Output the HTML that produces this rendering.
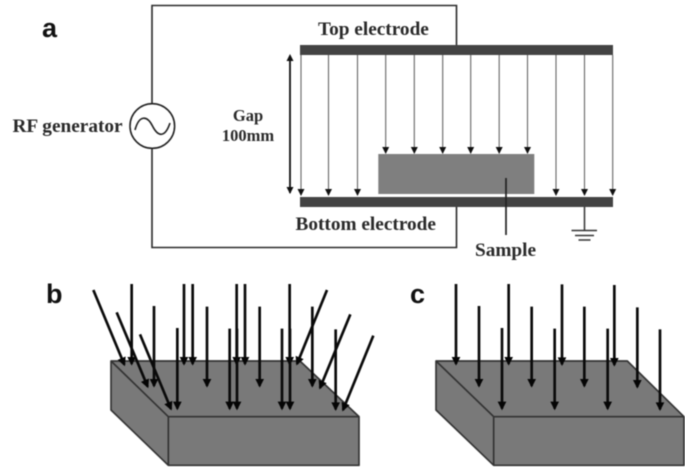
<!DOCTYPE html>
<html>
<head>
<meta charset="utf-8">
<style>
html,body{margin:0;padding:0;background:#fff;width:685px;height:467px;overflow:hidden}
svg{display:block;filter:blur(0.5px)}
.s{font-family:"Liberation Serif",serif;font-weight:bold;font-size:19.3px;fill:#2a2a2a}
.g{font-family:"Liberation Serif",serif;font-weight:bold;font-size:16.5px;fill:#2a2a2a}
.l{font-family:"Liberation Sans",sans-serif;font-weight:bold;font-size:27px;fill:#111}
</style>
</head>
<body>
<svg width="685" height="467" viewBox="0 0 685 467" xmlns="http://www.w3.org/2000/svg">
<defs>
<marker id="h" markerUnits="userSpaceOnUse" markerWidth="8" markerHeight="8" viewBox="0 0 8 8" refX="6" refY="4" orient="auto"><path d="M0 .5L7 4L0 7.5Z" fill="#111"/></marker>
<marker id="hs" markerUnits="userSpaceOnUse" markerWidth="8" markerHeight="8" viewBox="0 0 8 8" refX="2" refY="4" orient="auto"><path d="M7 .5L0 4L7 7.5Z" fill="#111"/></marker>
<marker id="b" markerUnits="userSpaceOnUse" markerWidth="30" markerHeight="30" viewBox="0 0 30 30" refX="22" refY="15" orient="auto"><path d="M1 2L27 15L1 28Z" fill="#050505"/></marker>
</defs>

<!-- Panel a -->
<text class="l" x="42" y="37">a</text>
<path d="M152 103.500V5.500H456.500V45M152 148.500V247.500H456.500V207" fill="none" stroke="#2a2a2a" stroke-width="1.600"/>
<circle cx="152.300" cy="126" r="22.300" fill="#fff" stroke="#222" stroke-width="1.600"/>
<path d="M135 130C139 115 147 115 152.500 126C158 137 165 138 170 123" fill="none" stroke="#222" stroke-width="1.600"/>
<rect x="300" y="45" width="313" height="10" fill="#434343"/>
<rect x="300" y="197" width="313" height="10" fill="#434343"/>
<rect x="378.300" y="154" width="156" height="40" fill="#7f7f7f"/>

<g stroke="#666" stroke-width="1.100" fill="none">
<line x1="301" y1="55" x2="301" y2="195" marker-end="url(#h)"/>
<line x1="328.500" y1="55" x2="328.500" y2="195" marker-end="url(#h)"/>
<line x1="357.500" y1="55" x2="357.500" y2="195" marker-end="url(#h)"/>
<line x1="385.700" y1="55" x2="385.700" y2="153" marker-end="url(#h)"/>
<line x1="414.300" y1="55" x2="414.300" y2="153" marker-end="url(#h)"/>
<line x1="442.700" y1="55" x2="442.700" y2="153" marker-end="url(#h)"/>
<line x1="470.700" y1="55" x2="470.700" y2="153" marker-end="url(#h)"/>
<line x1="499.200" y1="55" x2="499.200" y2="153" marker-end="url(#h)"/>
<line x1="527.500" y1="55" x2="527.500" y2="153" marker-end="url(#h)"/>
<line x1="556" y1="55" x2="556" y2="195" marker-end="url(#h)"/>
<line x1="584.500" y1="55" x2="584.500" y2="195" marker-end="url(#h)"/>
<line x1="612.700" y1="55" x2="612.700" y2="195" marker-end="url(#h)"/>
</g>
<line x1="290" y1="56" x2="290" y2="193" stroke="#111" stroke-width="1.800" marker-start="url(#hs)" marker-end="url(#h)"/>
<line x1="506" y1="178" x2="506" y2="235" stroke="#222" stroke-width="1.700"/>
<g stroke="#333" stroke-width="1.500">
<line x1="584.500" y1="207" x2="584.500" y2="230"/>
<line x1="571.500" y1="230.500" x2="597" y2="230.500"/>
<line x1="575" y1="235.500" x2="594" y2="235.500"/>
<line x1="578.500" y1="240" x2="590.500" y2="240"/>
</g>
<text class="s" x="318" y="35">Top electrode</text>
<text class="s" x="12.500" y="132">RF generator</text>
<text class="g" x="248" y="121" text-anchor="middle">Gap</text>
<text class="g" x="248" y="141" text-anchor="middle">100mm</text>
<text class="s" x="295.500" y="230">Bottom electrode</text>
<text class="s" x="475" y="256">Sample</text>

<!-- Panel b -->
<text class="l" x="46" y="303">b</text>
<g transform="translate(30 270) scale(.33333)">
<path d="M243 273H810L987 440V586H415L243 420Z" fill="#797979" stroke="#333" stroke-width="5" stroke-linejoin="round"/>
<path d="M243 273L415 440V586M415 440H987" fill="none" stroke="#333" stroke-width="5"/>
<g stroke="#0a0a0a" stroke-width="8" fill="none">
<line x1="305" y1="42" x2="305" y2="282" marker-end="url(#b)"/>
<line x1="462" y1="42" x2="462" y2="282" marker-end="url(#b)"/>
<line x1="488" y1="42" x2="488" y2="282" marker-end="url(#b)"/>
<line x1="620" y1="42" x2="620" y2="282" marker-end="url(#b)"/>
<line x1="645" y1="42" x2="645" y2="282" marker-end="url(#b)"/>
<line x1="779" y1="42" x2="779" y2="282" marker-end="url(#b)"/>
<line x1="372" y1="108" x2="372" y2="348" marker-end="url(#b)"/>
<line x1="531" y1="110" x2="531" y2="348" marker-end="url(#b)"/>
<line x1="689" y1="110" x2="689" y2="348" marker-end="url(#b)"/>
<line x1="847" y1="110" x2="847" y2="348" marker-end="url(#b)"/>
<line x1="442" y1="174" x2="442" y2="416" marker-end="url(#b)"/>
<line x1="599" y1="176" x2="599" y2="416" marker-end="url(#b)"/>
<line x1="621" y1="176" x2="621" y2="416" marker-end="url(#b)"/>
<line x1="756" y1="176" x2="756" y2="416" marker-end="url(#b)"/>
<line x1="780" y1="176" x2="780" y2="416" marker-end="url(#b)"/>
<line x1="917" y1="178" x2="917" y2="418" marker-end="url(#b)"/>
<line x1="190" y1="60" x2="283" y2="284" marker-end="url(#b)"/>
<line x1="260" y1="127" x2="353" y2="350" marker-end="url(#b)"/>
<line x1="330" y1="193" x2="423" y2="417" marker-end="url(#b)"/>
<line x1="891" y1="60" x2="801" y2="282" marker-end="url(#b)"/>
<line x1="961" y1="133" x2="870" y2="354" marker-end="url(#b)"/>
<line x1="1030" y1="197" x2="939" y2="420" marker-end="url(#b)"/>
</g>
</g>

<!-- Panel c -->
<text class="l" x="410" y="303">c</text>
<g transform="translate(400 270) scale(.33333)">
<path d="M108 273H682L852 440V586H281L108 420Z" fill="#797979" stroke="#333" stroke-width="5" stroke-linejoin="round"/>
<path d="M108 273L281 440V586M281 440H852" fill="none" stroke="#333" stroke-width="5"/>
<g stroke="#0a0a0a" stroke-width="8" fill="none">
<line x1="168" y1="42" x2="168" y2="282" marker-end="url(#b)"/>
<line x1="326" y1="42" x2="326" y2="282" marker-end="url(#b)"/>
<line x1="486" y1="43" x2="486" y2="283" marker-end="url(#b)"/>
<line x1="643" y1="45" x2="643" y2="285" marker-end="url(#b)"/>
<line x1="237" y1="108" x2="237" y2="348" marker-end="url(#b)"/>
<line x1="395" y1="110" x2="395" y2="348" marker-end="url(#b)"/>
<line x1="553" y1="110" x2="553" y2="348" marker-end="url(#b)"/>
<line x1="712" y1="112" x2="712" y2="351" marker-end="url(#b)"/>
<line x1="306" y1="174" x2="306" y2="416" marker-end="url(#b)"/>
<line x1="464" y1="176" x2="464" y2="416" marker-end="url(#b)"/>
<line x1="623" y1="176" x2="623" y2="416" marker-end="url(#b)"/>
<line x1="780" y1="178" x2="780" y2="418" marker-end="url(#b)"/>
</g>
</g>
</svg>
</body>
</html>
